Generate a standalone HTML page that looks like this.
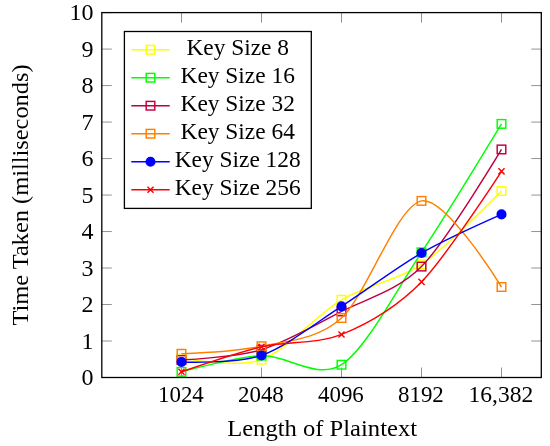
<!DOCTYPE html><html><head><meta charset="utf-8"><style>html,body{margin:0;padding:0;background:#fff;}svg{display:block;}text{font-family:'Liberation Serif',serif; font-size:23px;fill:#000;}</style></head><body>
<svg width="550" height="446" viewBox="0 0 550 446">
<rect width="550" height="446" fill="#fff"/>
<path d="M181.50,377.50 V367.50 M181.50,12.60 V22.60 M261.50,377.50 V367.50 M261.50,12.60 V22.60 M341.50,377.50 V367.50 M341.50,12.60 V22.60 M421.50,377.50 V367.50 M421.50,12.60 V22.60 M501.50,377.50 V367.50 M501.50,12.60 V22.60 M101.80,377.50 H111.80 M541.30,377.50 H531.30 M101.80,341.01 H111.80 M541.30,341.01 H531.30 M101.80,304.52 H111.80 M541.30,304.52 H531.30 M101.80,268.03 H111.80 M541.30,268.03 H531.30 M101.80,231.54 H111.80 M541.30,231.54 H531.30 M101.80,195.05 H111.80 M541.30,195.05 H531.30 M101.80,158.56 H111.80 M541.30,158.56 H531.30 M101.80,122.07 H111.80 M541.30,122.07 H531.30 M101.80,85.58 H111.80 M541.30,85.58 H531.30 M101.80,49.09 H111.80 M541.30,49.09 H531.30 M101.80,12.60 H111.80 M541.30,12.60 H531.30" stroke="#777" stroke-width="0.8" fill="none"/>
<path d="M181.50,358.16 C181.50,358.16 237.08,368.53 261.50,359.62 C285.92,350.71 317.08,314.31 341.50,299.78 C365.92,285.24 397.08,280.98 421.50,264.38 C445.92,247.78 501.50,191.04 501.50,191.04" stroke="#ffff00" stroke-width="1.45" fill="none"/>
<rect x="177.20" y="353.86" width="8.60" height="8.60" fill="none" stroke="#ffff00" stroke-width="1.45"/>
<rect x="257.20" y="355.32" width="8.60" height="8.60" fill="none" stroke="#ffff00" stroke-width="1.45"/>
<rect x="337.20" y="295.48" width="8.60" height="8.60" fill="none" stroke="#ffff00" stroke-width="1.45"/>
<rect x="417.20" y="260.08" width="8.60" height="8.60" fill="none" stroke="#ffff00" stroke-width="1.45"/>
<rect x="497.20" y="186.74" width="8.60" height="8.60" fill="none" stroke="#ffff00" stroke-width="1.45"/>
<path d="M181.50,371.81 C181.50,371.81 237.08,356.69 261.50,355.61 C285.92,354.53 317.08,380.49 341.50,364.73 C365.92,348.97 397.08,289.10 421.50,252.34 C445.92,215.58 501.50,123.89 501.50,123.89" stroke="#00ff00" stroke-width="1.45" fill="none"/>
<rect x="177.20" y="367.51" width="8.60" height="8.60" fill="none" stroke="#00ff00" stroke-width="1.45"/>
<rect x="257.20" y="351.31" width="8.60" height="8.60" fill="none" stroke="#00ff00" stroke-width="1.45"/>
<rect x="337.20" y="360.43" width="8.60" height="8.60" fill="none" stroke="#00ff00" stroke-width="1.45"/>
<rect x="417.20" y="248.04" width="8.60" height="8.60" fill="none" stroke="#00ff00" stroke-width="1.45"/>
<rect x="497.20" y="119.59" width="8.60" height="8.60" fill="none" stroke="#00ff00" stroke-width="1.45"/>
<path d="M181.50,359.98 C181.50,359.98 237.08,357.17 261.50,349.77 C285.92,342.36 317.08,324.15 341.50,311.45 C365.92,298.76 397.08,291.30 421.50,266.57 C445.92,241.84 501.50,149.44 501.50,149.44" stroke="#bf0040" stroke-width="1.45" fill="none"/>
<rect x="177.20" y="355.68" width="8.60" height="8.60" fill="none" stroke="#bf0040" stroke-width="1.45"/>
<rect x="257.20" y="345.47" width="8.60" height="8.60" fill="none" stroke="#bf0040" stroke-width="1.45"/>
<rect x="337.20" y="307.15" width="8.60" height="8.60" fill="none" stroke="#bf0040" stroke-width="1.45"/>
<rect x="417.20" y="262.27" width="8.60" height="8.60" fill="none" stroke="#bf0040" stroke-width="1.45"/>
<rect x="497.20" y="145.14" width="8.60" height="8.60" fill="none" stroke="#bf0040" stroke-width="1.45"/>
<path d="M181.50,353.78 C181.50,353.78 237.08,351.69 261.50,346.23 C285.92,340.77 317.08,340.20 341.50,318.02 C365.92,295.84 397.08,205.62 421.50,200.89 C445.92,196.15 501.50,287.00 501.50,287.00" stroke="#ff8000" stroke-width="1.45" fill="none"/>
<rect x="177.20" y="349.48" width="8.60" height="8.60" fill="none" stroke="#ff8000" stroke-width="1.45"/>
<rect x="257.20" y="341.93" width="8.60" height="8.60" fill="none" stroke="#ff8000" stroke-width="1.45"/>
<rect x="337.20" y="313.72" width="8.60" height="8.60" fill="none" stroke="#ff8000" stroke-width="1.45"/>
<rect x="417.20" y="196.59" width="8.60" height="8.60" fill="none" stroke="#ff8000" stroke-width="1.45"/>
<rect x="497.20" y="282.70" width="8.60" height="8.60" fill="none" stroke="#ff8000" stroke-width="1.45"/>
<path d="M181.50,361.99 C181.50,361.99 237.08,363.92 261.50,355.42 C285.92,346.93 317.08,321.97 341.50,306.34 C365.92,290.72 397.08,267.10 421.50,253.07 C445.92,239.03 501.50,214.39 501.50,214.39" stroke="#0000ff" stroke-width="1.45" fill="none"/>
<circle cx="181.50" cy="361.99" r="4.30" fill="#0000ff" stroke="#0000ff" stroke-width="1.45"/>
<circle cx="261.50" cy="355.42" r="4.30" fill="#0000ff" stroke="#0000ff" stroke-width="1.45"/>
<circle cx="341.50" cy="306.34" r="4.30" fill="#0000ff" stroke="#0000ff" stroke-width="1.45"/>
<circle cx="421.50" cy="253.07" r="4.30" fill="#0000ff" stroke="#0000ff" stroke-width="1.45"/>
<circle cx="501.50" cy="214.39" r="4.30" fill="#0000ff" stroke="#0000ff" stroke-width="1.45"/>
<path d="M181.50,371.81 C181.50,371.81 237.08,352.55 261.50,346.85 C285.92,341.15 317.08,344.36 341.50,334.44 C365.92,324.53 397.08,306.79 421.50,281.90 C445.92,257.00 501.50,171.33 501.50,171.33" stroke="#ff0000" stroke-width="1.45" fill="none"/>
<path d="M178.46,368.77 L184.54,374.85 M178.46,374.85 L184.54,368.77" stroke="#ff0000" stroke-width="1.45" fill="none"/>
<path d="M258.46,343.81 L264.54,349.89 M258.46,349.89 L264.54,343.81" stroke="#ff0000" stroke-width="1.45" fill="none"/>
<path d="M338.46,331.40 L344.54,337.48 M338.46,337.48 L344.54,331.40" stroke="#ff0000" stroke-width="1.45" fill="none"/>
<path d="M418.46,278.86 L424.54,284.94 M418.46,284.94 L424.54,278.86" stroke="#ff0000" stroke-width="1.45" fill="none"/>
<path d="M498.46,168.29 L504.54,174.37 M498.46,174.37 L504.54,168.29" stroke="#ff0000" stroke-width="1.45" fill="none"/>
<rect x="101.80" y="12.60" width="439.50" height="364.90" fill="none" stroke="#000" stroke-width="1.3"/>
<text x="93.4" y="385.10" text-anchor="end" style="font-size:24px">0</text>
<text x="93.4" y="348.61" text-anchor="end" style="font-size:24px">1</text>
<text x="93.4" y="312.12" text-anchor="end" style="font-size:24px">2</text>
<text x="93.4" y="275.63" text-anchor="end" style="font-size:24px">3</text>
<text x="93.4" y="239.14" text-anchor="end" style="font-size:24px">4</text>
<text x="93.4" y="202.65" text-anchor="end" style="font-size:24px">5</text>
<text x="93.4" y="166.16" text-anchor="end" style="font-size:24px">6</text>
<text x="93.4" y="129.67" text-anchor="end" style="font-size:24px">7</text>
<text x="93.4" y="93.18" text-anchor="end" style="font-size:24px">8</text>
<text x="93.4" y="56.69" text-anchor="end" style="font-size:24px">9</text>
<text x="93.4" y="20.20" text-anchor="end" style="font-size:24px">10</text>
<text x="180.90" y="401.8" text-anchor="middle" style="font-size:24px" textLength="45.84" lengthAdjust="spacingAndGlyphs">1024</text>
<text x="260.90" y="401.8" text-anchor="middle" style="font-size:24px" textLength="45.84" lengthAdjust="spacingAndGlyphs">2048</text>
<text x="340.90" y="401.8" text-anchor="middle" style="font-size:24px" textLength="45.84" lengthAdjust="spacingAndGlyphs">4096</text>
<text x="420.90" y="401.8" text-anchor="middle" style="font-size:24px" textLength="45.84" lengthAdjust="spacingAndGlyphs">8192</text>
<text x="500.90" y="401.8" text-anchor="middle" style="font-size:24px" textLength="64.68" lengthAdjust="spacingAndGlyphs">16,382</text>
<text x="322.1" y="435.8" text-anchor="middle" textLength="189.9" lengthAdjust="spacingAndGlyphs">Length of Plaintext</text>
<text transform="translate(28.2,195) rotate(-90)" x="0" y="0" text-anchor="middle" textLength="261.2" lengthAdjust="spacingAndGlyphs">Time Taken (milliseconds)</text>
<rect x="124.40" y="31.50" width="186.90" height="176.90" fill="#fff" stroke="#000" stroke-width="1.3"/>
<path d="M131.3,49.70 H169.7" stroke="#ffff00" stroke-width="1.45"/>
<rect x="146.20" y="45.40" width="8.60" height="8.60" fill="none" stroke="#ffff00" stroke-width="1.45"/>
<text x="237.7" y="55.10" text-anchor="middle" style="font-size:23.4px">Key Size 8</text>
<path d="M131.3,77.70 H169.7" stroke="#00ff00" stroke-width="1.45"/>
<rect x="146.20" y="73.40" width="8.60" height="8.60" fill="none" stroke="#00ff00" stroke-width="1.45"/>
<text x="237.7" y="83.10" text-anchor="middle" style="font-size:23.4px">Key Size 16</text>
<path d="M131.3,105.70 H169.7" stroke="#bf0040" stroke-width="1.45"/>
<rect x="146.20" y="101.40" width="8.60" height="8.60" fill="none" stroke="#bf0040" stroke-width="1.45"/>
<text x="237.7" y="111.10" text-anchor="middle" style="font-size:23.4px">Key Size 32</text>
<path d="M131.3,133.70 H169.7" stroke="#ff8000" stroke-width="1.45"/>
<rect x="146.20" y="129.40" width="8.60" height="8.60" fill="none" stroke="#ff8000" stroke-width="1.45"/>
<text x="237.7" y="139.10" text-anchor="middle" style="font-size:23.4px">Key Size 64</text>
<path d="M131.3,161.70 H169.7" stroke="#0000ff" stroke-width="1.45"/>
<circle cx="150.50" cy="161.70" r="4.30" fill="#0000ff" stroke="#0000ff" stroke-width="1.45"/>
<text x="237.7" y="167.10" text-anchor="middle" style="font-size:23.4px">Key Size 128</text>
<path d="M131.3,189.70 H169.7" stroke="#ff0000" stroke-width="1.45"/>
<path d="M147.46,186.66 L153.54,192.74 M147.46,192.74 L153.54,186.66" stroke="#ff0000" stroke-width="1.45" fill="none"/>
<text x="237.7" y="195.10" text-anchor="middle" style="font-size:23.4px">Key Size 256</text>
</svg></body></html>
